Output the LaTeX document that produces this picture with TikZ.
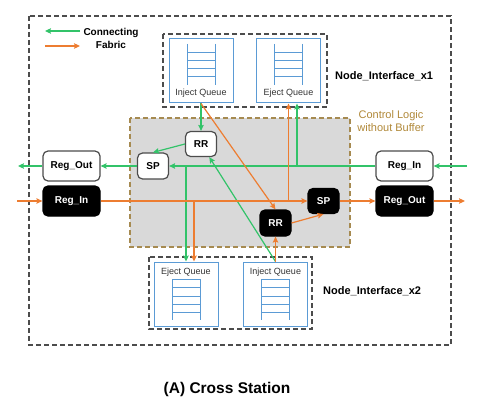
\documentclass[tikz,border=0pt]{standalone}
\usepackage{fontspec}
\setmainfont{Liberation Sans}
\usetikzlibrary{arrows.meta}
\definecolor{fabgreen}{RGB}{50,195,105}
\definecolor{faborange}{RGB}{237,125,49}
\definecolor{qblue}{RGB}{91,155,213}
\definecolor{ctrlbrown}{RGB}{166,138,80}
\definecolor{ctrltext}{RGB}{176,136,56}
\definecolor{ctrlfill}{RGB}{217,217,217}
\tikzset{
  reg/.style={rounded corners=5pt,draw=black!70,line width=1.2pt,fill=white,minimum width=57pt,minimum height=30pt,inner sep=0pt,font=\fontsize{10}{12}\selectfont\bfseries},
  breg/.style={reg,fill=black,draw=black,text=white},
  unit/.style={reg,minimum width=31pt,minimum height=25pt},
  bunit/.style={unit,fill=black,draw=black,text=white},
  qbox/.style={draw=qblue,line width=1pt,minimum width=64pt,minimum height=64pt,inner sep=0pt},
  qline/.style={draw=qblue,line width=1pt},
  qtext/.style={font=\fontsize{9}{11}\selectfont,text=black!80,inner sep=0pt},
  gline/.style={draw=fabgreen,line width=1.2pt,-{Stealth[length=6pt,width=5.5pt,inset=1pt]}},
  oline/.style={draw=faborange,line width=1.2pt,-{Stealth[length=6pt,width=5.5pt,inset=1pt]}},
  bound/.style={draw=black!70,dash pattern=on 5pt off 3pt,line width=1.1pt},
  ctrl/.style={draw=ctrlbrown,fill=ctrlfill,dash pattern=on 5pt off 3pt,line width=1.1pt}
}
\begin{document}
\begin{tikzpicture}[x=1pt,y=-1pt]
\useasboundingbox (0,0) rectangle (477,420);
\draw[bound](29,16) rectangle (451,345);
\draw[bound](163,34) rectangle (327,107);
\draw[bound](149,257) rectangle (312,329);
\draw[ctrl](130,118) rectangle (350,247);
\node[qbox] (qinj1) at (201,71) {};
\node[qbox] (qej1) at (288.5,71) {};
\node[qbox] (qej2) at (186,294) {};
\node[qbox] (qinj2) at (275.5,294) {};
\foreach \q in {qinj1,qej1}{\draw[qline](\q.center)++(-14,-27)--++(0,41) (\q.center)++(14,-27)--++(0,41);
  \foreach \r in {-18,-10,-2,6}{\draw[qline](\q.center)++(-14,\r)--++(28,0);}}
\foreach \q in {qej2,qinj2}{\draw[qline](\q.center)++(-14,-15)--++(0,41) (\q.center)++(14,-15)--++(0,41);
  \foreach \r in {-15,-7,2,10,18}{\draw[qline](\q.center)++(-14,\r)--++(28,0);}}
\node[qtext] (tinj1) at (201,93) {Inject Queue};
\node[qtext] (tej1) at (288.5,93) {Eject Queue};
\node[qtext] (tej2) at (186,272) {Eject Queue};
\node[qtext] (tinj2) at (275.5,272) {Inject Queue};
\node[reg] (rout1) at (71.5,166) {Reg\_Out};
\node[breg] (rin1) at (71.5,201) {Reg\_In};
\node[reg] (rin2) at (404.5,166) {Reg\_In};
\node[breg] (rout2) at (404.5,201) {Reg\_Out};
\node[unit,minimum height=26pt] (sp1) at (153,166) {SP};
\node[unit] (rr1) at (201,144) {RR};
\node[bunit] (sp2) at (323.5,201) {SP};
\node[bunit,minimum height=26pt] (rr2) at (275.5,223) {RR};
\node[font=\fontsize{10}{13}\selectfont\bfseries,align=center,inner sep=0pt] (fabric) at (111,38.5) {Connecting\\Fabric};
\node[font=\fontsize{11}{13}\selectfont\bfseries,anchor=west,inner sep=0pt] (ni1) at (335,76) {Node\_Interface\_x1};
\node[font=\fontsize{11}{13}\selectfont\bfseries,anchor=west,inner sep=0pt] (ni2) at (323,291) {Node\_Interface\_x2};
\node[font=\fontsize{11}{13}\selectfont,text=ctrltext,align=center,inner sep=0pt] (ctrltxt) at (391,121.5) {Control Logic\\without Buffer};
\node[font=\fontsize{15.5}{18}\selectfont\bfseries] (cap) at (227,389) {(A) Cross Station};
\coordinate (lg1) at (80,31); \coordinate (lg2) at (45,31);
\coordinate (lo1) at (45,46); \coordinate (lo2) at (80,46);
\coordinate (lin) at (17,201); \coordinate (rout) at (465,201);
\coordinate (rin) at (467,166); \coordinate (lout) at (18,166);
\coordinate (gup) at (297,166); \coordinate (gdn) at (186,166);
\coordinate (oup) at (288.5,201); \coordinate (odn) at (194,201);
\draw[gline](lg1)--(lg2);
\draw[oline](lo1)--(lo2);
\draw[gline](rin)--(rin2);
\draw[gline](rin2)--(sp1);
\draw[gline](sp1)--(rout1);
\draw[gline](rout1)--(lout);
\draw[gline](gup)--(gup |- qej1.south);
\draw[gline](gdn)--(gdn |- qej2.north);
\draw[gline](qinj1.south)--(rr1.north);
\draw[gline](rr1.west)--(sp1.north);
\draw[gline](qinj2.north)--(rr1);
\draw[oline](lin)--(rin1);
\draw[oline](rin1)--(sp2);
\draw[oline](sp2)--(rout2);
\draw[oline](rout2)--(rout);
\draw[oline](oup)--(oup |- qej1.south);
\draw[oline](odn)--(odn |- qej2.north);
\draw[oline](qinj1.south)--(rr2.north);
\draw[oline](qinj2.north)--(rr2.south);
\draw[oline](rr2.east)--(sp2.south);
\end{tikzpicture}
\end{document}
